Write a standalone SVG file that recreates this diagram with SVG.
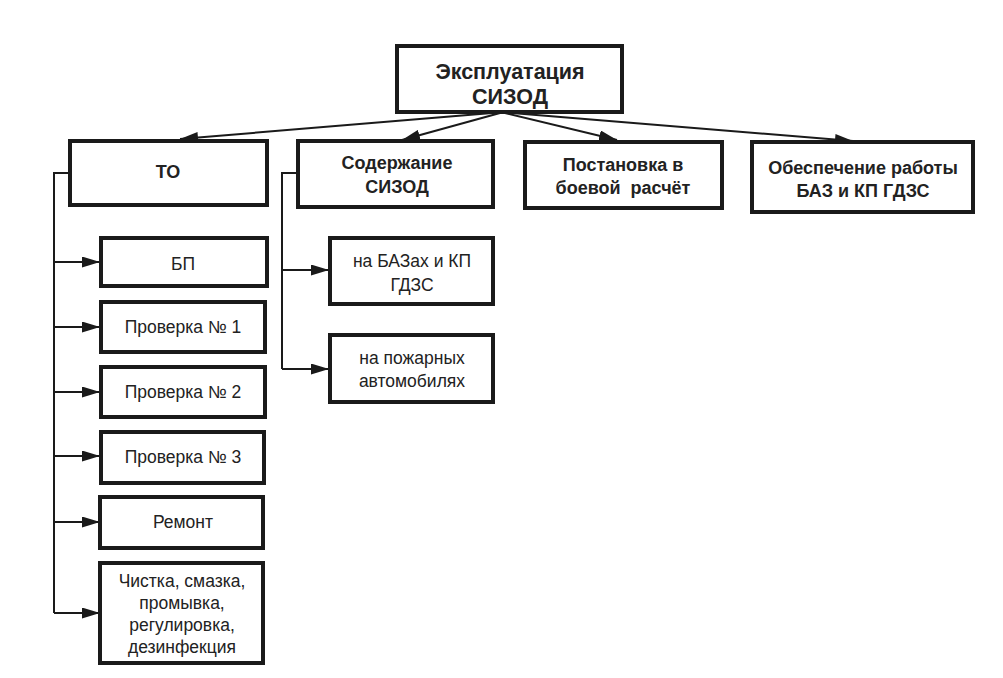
<svg xmlns="http://www.w3.org/2000/svg" width="1003" height="678" viewBox="0 0 1003 678">
<style>
.box{fill:#fff;stroke:#1a1a1a;stroke-width:4}
.t{font-family:"Liberation Sans",Arial,sans-serif;fill:#222;text-anchor:middle;font-size:17.5px}
.b{font-weight:bold;font-size:18px}
.h{font-weight:bold;font-size:21.5px}
.c{fill:none;stroke:#1a1a1a;stroke-width:2}
</style>
<defs>
<marker id="ah" viewBox="0 0 18 11" refX="18" refY="5.5" markerWidth="18" markerHeight="11" markerUnits="userSpaceOnUse" orient="auto">
<path d="M0,0 L18,5.5 L0,11 z" fill="#1a1a1a"/>
</marker>
</defs>
<rect width="1003" height="678" fill="#fff"/>
<g id="connectors">
<line class="c" x1="492" y1="113" x2="180" y2="139" marker-end="url(#ah)"/>
<line class="c" x1="500" y1="113" x2="402" y2="140" marker-end="url(#ah)"/>
<line class="c" x1="505" y1="113" x2="617" y2="140" marker-end="url(#ah)"/>
<line class="c" x1="512" y1="113" x2="853" y2="141" marker-end="url(#ah)"/>
<polyline class="c" points="70,173 54,173 54,613"/>
<line class="c" x1="54" y1="262" x2="100" y2="262" marker-end="url(#ah)"/>
<line class="c" x1="54" y1="327" x2="100" y2="327" marker-end="url(#ah)"/>
<line class="c" x1="54" y1="392" x2="100" y2="392" marker-end="url(#ah)"/>
<line class="c" x1="54" y1="456" x2="100" y2="456" marker-end="url(#ah)"/>
<line class="c" x1="54" y1="522" x2="100" y2="522" marker-end="url(#ah)"/>
<line class="c" x1="54" y1="613" x2="100" y2="613" marker-end="url(#ah)"/>
<polyline class="c" points="298,173 282,173 282,369"/>
<line class="c" x1="282" y1="270" x2="329" y2="270" marker-end="url(#ah)"/>
<line class="c" x1="282" y1="369" x2="329" y2="369" marker-end="url(#ah)"/>
</g>
<g id="n-root"><rect class="box" x="397" y="46" width="225" height="66"/>
<text class="t h" x="510" y="79">Эксплуатация</text>
<text class="t h" x="510" y="104">СИЗОД</text></g>
<g id="n-to"><rect class="box" x="70" y="141" width="197" height="64"/>
<text class="t b" x="168" y="178">ТО</text></g>
<g id="n-soder"><rect class="box" x="298" y="141" width="195" height="66"/>
<text class="t b" x="397" y="169">Содержание</text>
<text class="t b" x="397" y="193">СИЗОД</text></g>
<g id="n-post"><rect class="box" x="525" y="142" width="197" height="66"/>
<text class="t b" x="623" y="171">Постановка в</text>
<text class="t b" x="623" y="194" style="white-space:pre">боевой  расчёт</text></g>
<g id="n-obesp"><rect class="box" x="752" y="142" width="221" height="70"/>
<text class="t b" x="863" y="174">Обеспечение работы</text>
<text class="t b" x="863" y="197">БАЗ и КП ГДЗС</text></g>
<g id="n-bp"><rect class="box" x="101" y="238" width="166" height="48"/>
<text class="t" x="183" y="270">БП</text></g>
<g id="n-p1"><rect class="box" x="101" y="302" width="164" height="50"/>
<text class="t" x="183" y="333">Проверка № 1</text></g>
<g id="n-p2"><rect class="box" x="101" y="367" width="164" height="50"/>
<text class="t" x="183" y="398">Проверка № 2</text></g>
<g id="n-p3"><rect class="box" x="101" y="432" width="163" height="51"/>
<text class="t" x="183" y="463">Проверка № 3</text></g>
<g id="n-rem"><rect class="box" x="100" y="497" width="163" height="51"/>
<text class="t" x="183" y="528">Ремонт</text></g>
<g id="n-chist"><rect class="box" x="100" y="563" width="163" height="100"/>
<text class="t" x="182" y="587">Чистка, смазка,</text>
<text class="t" x="182" y="609">промывка,</text>
<text class="t" x="182" y="631">регулировка,</text>
<text class="t" x="182" y="653">дезинфекция</text></g>
<g id="n-baz"><rect class="box" x="330" y="238" width="163" height="66"/>
<text class="t" x="412" y="267">на БАЗах и КП</text>
<text class="t" x="412" y="291">ГДЗС</text></g>
<g id="n-pozh"><rect class="box" x="330" y="335" width="163" height="67"/>
<text class="t" x="412" y="364">на пожарных</text>
<text class="t" x="412" y="387">автомобилях</text></g>
</svg>
